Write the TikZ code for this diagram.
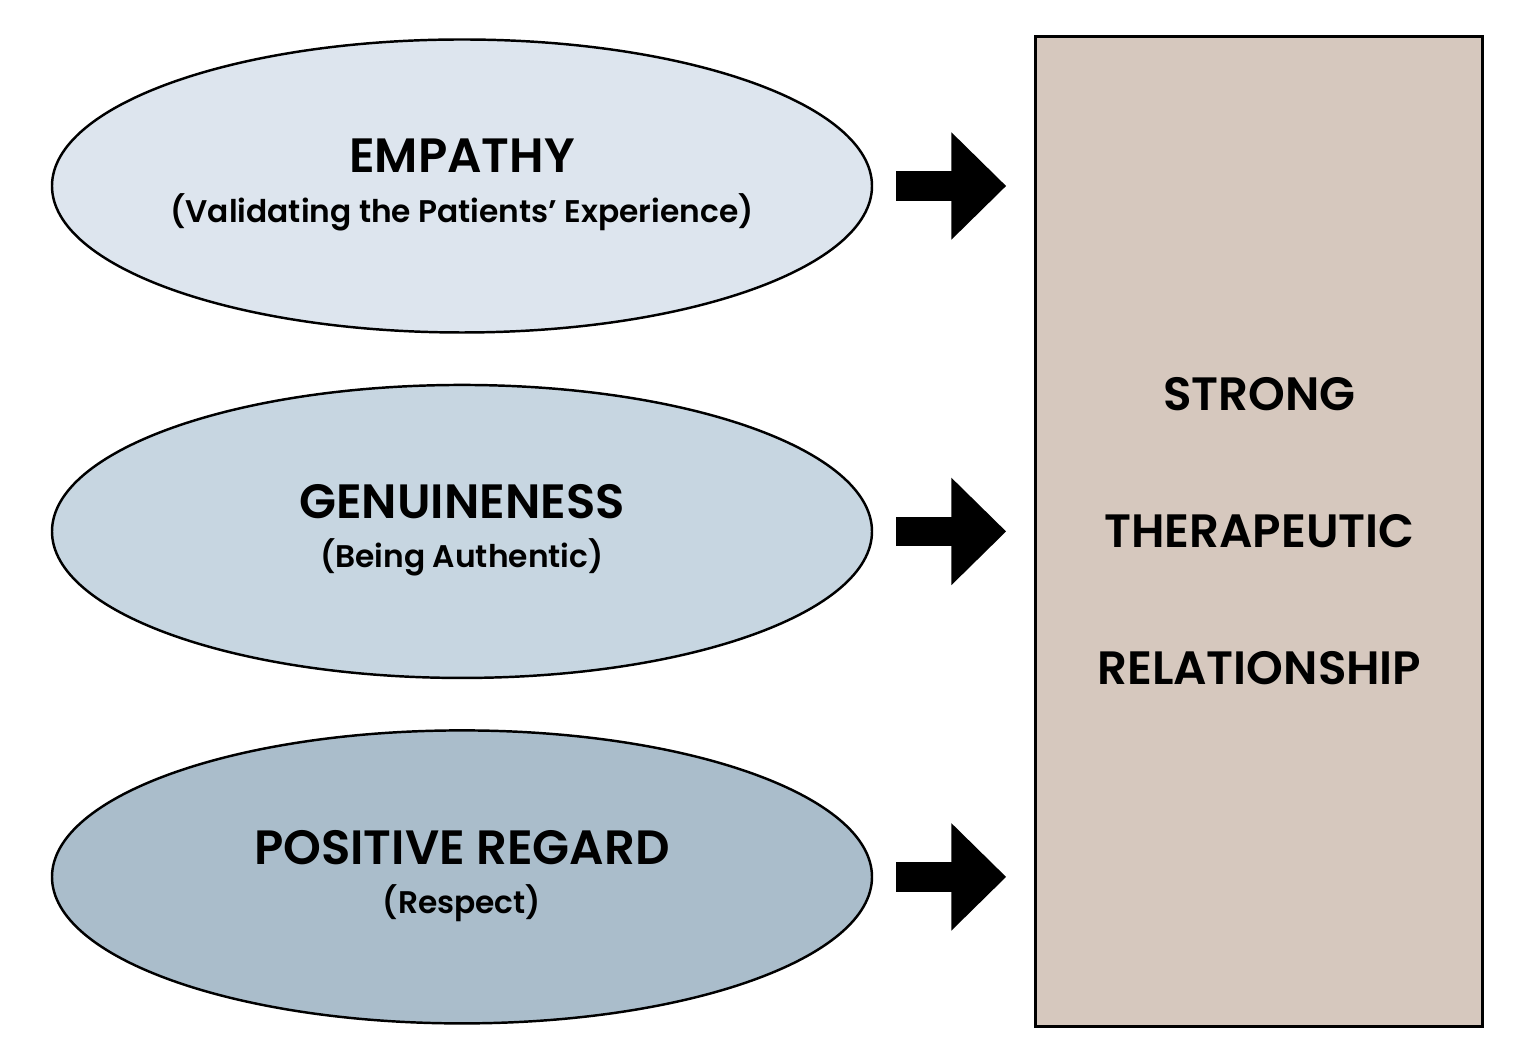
\documentclass[tikz,border=0pt]{standalone}
\usepackage{fontspec}
\setmainfont{Poppins}[BoldFont={* SemiBold}]
\definecolor{palesky}{HTML}{DDE5EE}
\definecolor{midsky}{HTML}{C7D6E1}
\definecolor{deepsky}{HTML}{AABDCB}
\definecolor{taupe}{HTML}{D6C8BE}
\usetikzlibrary{
    arrows.meta,
    shapes.geometric,
    positioning
}
\tikzstyle{quality} = [
    ellipse,
    draw=black,
    line width=0.7pt,
    minimum width=8.2cm,
    minimum height=2.93cm,
    inner xsep=-3pt,
    inner ysep=0pt,
    align=center
]
\tikzstyle{outcome} = [
    rectangle,
    draw=black,
    line width=0.9pt,
    fill=taupe,
    minimum width=4.47cm,
    minimum height=9.9cm,
    align=center,
    font=\fontsize{13.3}{39}\selectfont\bfseries
]
\tikzstyle{bigarrow} = [
    line width=8.5pt,
    -{Triangle[length=15.6pt,width=29.6pt]}
]
\newcommand{\qtitle}[1]{{\fontsize{13.7}{17}\selectfont\bfseries #1}}
\newcommand{\qsub}[1]{{\fontsize{8.9}{13}\selectfont\bfseries #1}}

\begin{document}
\begin{tikzpicture}[node distance=0.5cm]
    \useasboundingbox (0,0) rectangle (15.2,-10.46);

    % Three qualities
    \node[quality, fill=palesky] (empathy) at (4.62,-1.86)
        {\qtitle{EMPATHY}\\[2pt]\qsub{(Validating the Patients’ Experience)}\\[-9pt]\mbox{}};
    \node[quality, fill=midsky, below=of empathy] (genuine)
        {\qtitle{GENUINENESS}\\[2pt]\qsub{(Being Authentic)}\\[-9pt]\mbox{}};
    \node[quality, fill=deepsky, below=of genuine] (regard)
        {\qtitle{POSITIVE REGARD}\\[2pt]\qsub{(Respect)}\\[-9pt]\mbox{}};

    % Outcome
    \node[outcome, right=1.61cm of genuine] (alliance)
        {STRONG\\THERAPEUTIC\\RELATIONSHIP};

    % Arrows
    \draw[bigarrow] ([xshift=0.23cm]empathy.east) -- ([xshift=-0.28cm]alliance.west |- empathy);
    \draw[bigarrow] ([xshift=0.23cm]genuine.east) -- ([xshift=-0.28cm]alliance.west |- genuine);
    \draw[bigarrow] ([xshift=0.23cm]regard.east) -- ([xshift=-0.28cm]alliance.west |- regard);
\end{tikzpicture}
\end{document}
